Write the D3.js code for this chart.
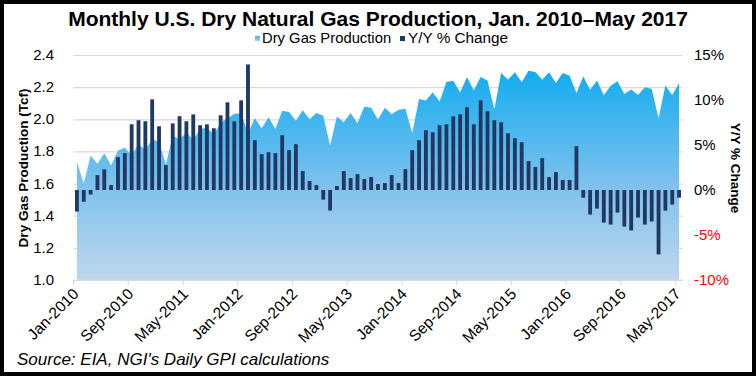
<!DOCTYPE html>
<html>
<head>
<meta charset="utf-8">
<script src="https://cdn.jsdelivr.net/npm/d3@7"></script>
<style>
  body { margin: 0; background: #fff; }
  svg text { font-family: "Liberation Sans Narrow", "Arial Narrow", "Liberation Sans", sans-serif; }
</style>
</head>
<body>
<div id="container" style="width:756px;height:376px"></div>
<script>
// data
let tickLabels = ["Jan-2010", "Sep-2010", "May-2011", "Jan-2012", "Sep-2012", "May-2013",
    "Jan-2014", "Sep-2014", "May-2015", "Jan-2016", "Sep-2016", "May-2017"];
let months = d3.timeMonth.range(new Date(2010, 0, 1), new Date(2017, 5, 1));

// dry gas production, Tcf
let production = [
    1.735, 1.602, 1.773, 1.723, 1.789, 1.714, 1.806, 1.823, 1.777, 1.847, 1.810, 1.876,
    1.860, 1.720, 1.897, 1.876, 1.918, 1.872, 1.939, 1.947, 1.905, 1.980, 2.005, 2.034,
    2.037, 1.914, 2.007, 1.945, 2.012, 1.939, 2.053, 2.045, 1.991, 2.057, 2.001, 2.039,
    2.022, 1.838, 2.018, 1.982, 2.039, 1.976, 2.078, 2.072, 1.999, 2.072, 2.032, 2.059,
    2.066, 1.914, 2.126, 2.117, 2.169, 2.111, 2.232, 2.240, 2.169, 2.261, 2.180, 2.263,
    2.242, 2.063, 2.288, 2.246, 2.292, 2.230, 2.302, 2.294, 2.246, 2.292, 2.226, 2.288,
    2.271, 2.163, 2.267, 2.184, 2.242, 2.149, 2.209, 2.236, 2.157, 2.186, 2.151, 2.200,
    2.188, 2.007, 2.211, 2.149, 2.226
];
// year over year change, %
let yoyChange = [
    -2.4, -1.3, -0.5, 1.66, 2.3, 0.55, 3.65, 4.1, 7.3, 7.75, 7.64, 10.07,
    7.08, 2.77, 7.4, 8.2, 7.64, 8.4, 7.2, 7.3, 6.86, 8.3, 9.74, 7.64,
    9.96, 13.95, 5.53, 3.99, 4.2, 4.1, 6.09, 4.43, 5.09, 2.1, 1.0, 0.55,
    -1.07, -2.29, 0.44, 2.1, 1.33, 1.77, 1.22, 1.44, 0.66, 0.77, 1.66, 0.77,
    2.32, 4.43, 5.53, 6.64, 6.42, 7.2, 7.3, 8.19, 8.41, 9.19, 7.3, 9.96,
    8.75, 7.75, 7.53, 6.31, 5.76, 5.31, 3.21, 2.55, 3.54, 1.44, 1.99, 1.11,
    1.11, 4.87, -0.85, -2.73, -2.07, -3.62, -3.84, -2.51, -4.06, -4.5, -3.06, -3.84,
    -3.5, -7.16, -2.29, -1.62, -0.85
];
let leftTicks = [1.0, 1.2, 1.4, 1.6, 1.8, 2.0, 2.2, 2.4];
let rightTicks = [-10, -5, 0, 5, 10, 15];

let fmtMonth = d3.timeFormat("%b-%Y");
let data = months.map(function (m, i) {
    return { key: fmtMonth(m), prod: production[i], yoy: yoyChange[i] };
});

// canvas
let width = 756, height = 376;
let svg = d3.select("#container")
    .append("svg")
    .attr("width", width)
    .attr("height", height)
    .style("background-color", "#fff");

let plot = { left: 73.5, right: 682.5, top: 55, bottom: 280 };

// scales
let xScale = d3.scaleBand()
    .domain(data.map(d => d.key))
    .range([plot.left, plot.right])
    .paddingInner(0)
    .paddingOuter(0);
let yLeft = d3.scaleLinear().domain([1.0, 2.4]).range([plot.bottom, plot.top]);
let yRight = d3.scaleLinear().domain([-10, 15]).range([plot.bottom, plot.top]);
let cx = d => xScale(d.key) + xScale.bandwidth() / 2;

// gradient for the area
let defs = svg.append("defs");
let grad = defs.append("linearGradient")
    .attr("id", "areaGrad")
    .attr("gradientUnits", "userSpaceOnUse")
    .attr("x1", 0).attr("x2", 0)
    .attr("y1", yLeft(d3.max(production))).attr("y2", plot.bottom);
grad.append("stop").attr("offset", "0%").attr("stop-color", "#13acef");
grad.append("stop").attr("offset", "55%").attr("stop-color", "#7fc1ed");
grad.append("stop").attr("offset", "100%").attr("stop-color", "#bfd7ee");

let legGrad = defs.append("linearGradient")
    .attr("id", "legGrad")
    .attr("x1", 0).attr("x2", 0).attr("y1", 0).attr("y2", 1);
legGrad.append("stop").attr("offset", "0%").attr("stop-color", "#3cb4ee");
legGrad.append("stop").attr("offset", "100%").attr("stop-color", "#a8cff0");

// gridlines (left axis)
svg.append("g")
    .attr("transform", "translate(" + plot.left + ",0)")
    .call(d3.axisLeft(yLeft).tickValues(leftTicks).tickSize(-(plot.right - plot.left)).tickFormat(""))
    .call(g => g.select(".domain").remove())
    .call(g => g.selectAll("line").attr("stroke", "#d9d9d9").attr("stroke-width", 1.2));

// area
let area = d3.area()
    .x(cx)
    .y0(plot.bottom)
    .y1(d => yLeft(d.prod));
svg.append("path")
    .datum(data)
    .attr("d", area)
    .attr("fill", "url(#areaGrad)");

// bars
svg.selectAll("rect.bar")
    .data(data)
    .enter()
    .append("rect")
    .attr("class", "bar")
    .attr("x", d => cx(d) - xScale.bandwidth() * 0.28)
    .attr("width", xScale.bandwidth() * 0.56)
    .attr("y", d => Math.min(yRight(d.yoy), yRight(0)))
    .attr("height", d => Math.abs(yRight(d.yoy) - yRight(0)))
    .attr("fill", "#1f3864");

// x axis
let xTickKeys = data.filter((d, i) => i % 8 === 0).map(d => d.key);
let xg = svg.append("g")
    .attr("transform", "translate(0," + plot.bottom + ")");
xg.append("line")
    .attr("x1", plot.left).attr("x2", plot.right)
    .attr("stroke", "#d9d9d9").attr("stroke-width", 1.2);
xg.selectAll("line.tick")
    .data(xTickKeys)
    .enter()
    .append("line")
    .attr("class", "tick")
    .attr("x1", d => xScale(d)).attr("x2", d => xScale(d))
    .attr("y1", 0).attr("y2", 5)
    .attr("stroke", "#d9d9d9").attr("stroke-width", 1.2);
xg.selectAll("text")
    .data(xTickKeys)
    .enter()
    .append("text")
    .attr("transform", (d, i) => "translate(" + (xScale(d) + 6) + ",15) rotate(-45)")
    .attr("text-anchor", "end")
    .attr("font-size", 15.5)
    .attr("fill", "#000")
    .text((d, i) => tickLabels[i]);

// left axis labels
svg.selectAll("text.yl")
    .data(leftTicks)
    .enter()
    .append("text")
    .attr("class", "yl")
    .attr("x", 54)
    .attr("y", d => yLeft(d) + 5)
    .attr("text-anchor", "end")
    .attr("font-size", 15)
    .text(d => d.toFixed(1));

// right axis labels
svg.selectAll("text.yr")
    .data(rightTicks)
    .enter()
    .append("text")
    .attr("class", "yr")
    .attr("x", 694)
    .attr("y", d => yRight(d) + 5)
    .attr("font-size", 15)
    .attr("fill", d => d < 0 ? "#ff0000" : "#000")
    .text(d => d + "%");

// axis titles
svg.append("text")
    .attr("transform", "translate(28,168) rotate(-90)")
    .attr("text-anchor", "middle")
    .attr("font-size", 13.5)
    .attr("font-weight", "bold")
    .text("Dry Gas Production (Tcf)");
svg.append("text")
    .attr("transform", "translate(731,168) rotate(90)")
    .attr("text-anchor", "middle")
    .attr("font-size", 13.5)
    .attr("font-weight", "bold")
    .text("Y/Y % Change");

// title
svg.append("text")
    .attr("x", 378)
    .attr("y", 26)
    .attr("text-anchor", "middle")
    .attr("font-size", 21)
    .attr("font-weight", "bold")
    .text("Monthly U.S. Dry Natural Gas Production, Jan. 2010\u2013May 2017");

// legend
let leg = svg.append("g");
leg.append("rect").attr("x", 255).attr("y", 36).attr("width", 5).attr("height", 5).attr("fill", "url(#legGrad)");
leg.append("text").attr("x", 262).attr("y", 42.5).attr("font-size", 14.8).text("Dry Gas Production");
leg.append("rect").attr("x", 400).attr("y", 36).attr("width", 5).attr("height", 5).attr("fill", "#1f3864");
leg.append("text").attr("x", 408).attr("y", 42.5).attr("font-size", 15.3).text("Y/Y % Change");

// source
svg.append("text")
    .attr("x", 17)
    .attr("y", 365)
    .attr("font-size", 17)
    .attr("font-style", "italic")
    .text("Source: EIA, NGI's Daily GPI calculations");

// frame
svg.append("rect")
    .attr("x", 2).attr("y", 2)
    .attr("width", width - 4).attr("height", height - 4)
    .attr("fill", "none")
    .attr("stroke", "#000")
    .attr("stroke-width", 4);
</script>
</body>
</html>
